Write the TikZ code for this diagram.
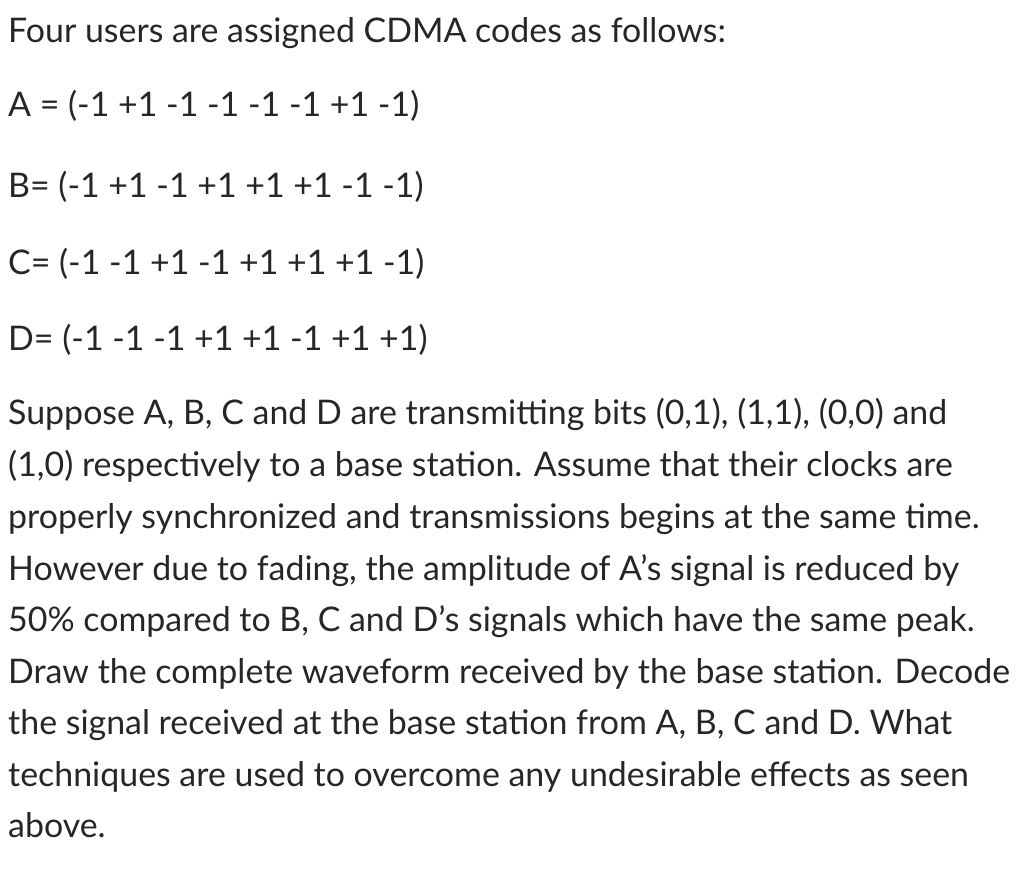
\documentclass[tikz,border=0pt]{standalone}
\usepackage{fontspec}
\setmainfont{Lato}
\begin{document}
\begin{tikzpicture}[x=1pt,y=1pt,txt/.style={anchor=base west,inner sep=0pt,font=\fontsize{33.9}{40}\selectfont,text=black!85}]
\useasboundingbox (0,0) rectangle (1024,879);
\node[txt] (l0) at (8,879-43) {Four users are assigned CDMA codes as follows:};
\node[txt] (l1) at (8,879-117) {A = (-1 +1 -1 -1 -1 -1 +1 -1)};
\node[txt] (l2) at (8,879-198) {B= (-1 +1 -1 +1 +1 +1 -1 -1)};
\node[txt] (l3) at (8,879-275) {C= (-1 -1 +1 -1 +1 +1 +1 -1)};
\node[txt] (l4) at (8,879-351) {D= (-1 -1 -1 +1 +1 -1 +1 +1)};
\node[txt] (p1) at (8,879-425) {Suppose A, B, C and D are transmitting bits (0,1), (1,1), (0,0) and};
\node[txt] (p2) at (8,879-476) {(1,0) respectively to a base station. Assume that their clocks are};
\node[txt] (p3) at (8,879-528) {properly synchronized and transmissions begins at the same time.};
\node[txt] (p4) at (8,879-580) {However due to fading, the amplitude of A’s signal is reduced by};
\node[txt] (p5) at (8,879-631) {50\% compared to B, C and D’s signals which have the same peak.};
\node[txt] (p6) at (8,879-683) {Draw the complete waveform received by the base station. Decode};
\node[txt] (p7) at (8,879-734) {the signal received at the base station from A, B, C and D. What};
\node[txt] (p8) at (8,879-786) {techniques are used to overcome any undesirable effects as seen};
\node[txt] (p9) at (8,879-837) {above.};
\end{tikzpicture}
\end{document}
